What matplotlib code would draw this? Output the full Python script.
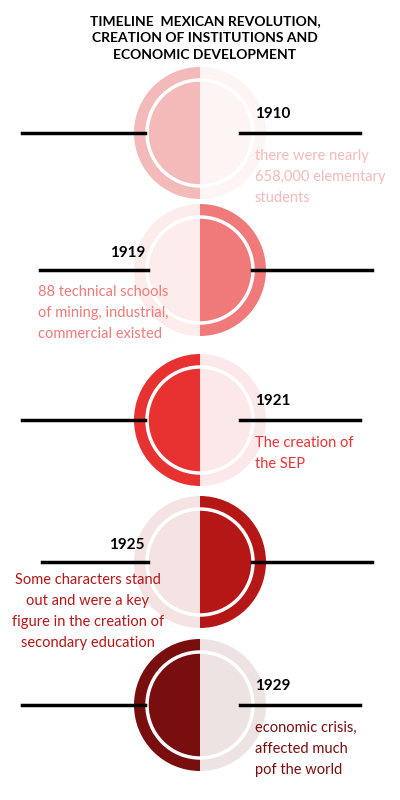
import matplotlib
matplotlib.use('Agg')
from matplotlib import pyplot as plt
from matplotlib.patches import Wedge, Circle

plt.rcParams['font.family'] = ['Lato', 'DejaVu Sans']

years = ['1910', '1919', '1921', '1925', '1929']
texts = ['there were nearly\n658,000 elementary\nstudents',
         '88 technical schools\nof mining, industrial,\ncommercial existed',
         'The creation of\nthe SEP',
         'Some characters stand\nout and were a key\nfigure in the creation of\nsecondary education',
         'economic crisis,\naffected much\npof the world']
dark_colors = ['#f4b9b9', '#f07a7a', '#e83232', '#b51616', '#780e0e']
light_colors = ['#fdf4f4', '#fcecec', '#fce8e8', '#f5e3e3', '#ede3e3']
dark_side = ['left', 'right', 'left', 'right', 'left']
text_colors = ['#f4b9b9', '#f07a7a', '#e83232', '#b51616', '#780e0e']
centers_y = [133, 270, 420, 562, 705]

fig = plt.figure(figsize=(4, 8), dpi=100)
ax = fig.add_axes([0, 0, 1, 1])
ax.set_xlim(0, 400)
ax.set_ylim(800, 0)
ax.axis('off')

ax.text(205, 38, 'TIMELINE  MEXICAN REVOLUTION,\nCREATION OF INSTITUTIONS AND\nECONOMIC DEVELOPMENT',
        ha='center', va='center', fontsize=10, fontweight='bold', linespacing=1.5)

cx, R, r = 200, 66, 53
fs = 10.5
for i in range(5):
    cy = centers_y[i]
    if dark_side[i] == 'left':
        left_c, right_c = dark_colors[i], light_colors[i]
    else:
        left_c, right_c = light_colors[i], dark_colors[i]
    ax.add_patch(Wedge((cx, cy), R, 90, 270, color=left_c, lw=0))
    ax.add_patch(Wedge((cx, cy), R, -90, 90, color=right_c, lw=0))
    ax.add_patch(Circle((cx, cy), r, fill=False, ec='white', lw=2.5))

    if dark_side[i] == 'left':
        ax.plot([22, 145], [cy, cy], color='black', lw=2.5)
        ax.plot([240, 360], [cy, cy], color='black', lw=2.5)
        ax.text(255, cy - 19, years[i], fontsize=11, fontweight='bold', va='center')
        ax.text(255, cy + 16, texts[i], fontsize=fs, color=text_colors[i],
                va='top', linespacing=1.65)
    else:
        ax.plot([40 if i == 1 else 42, 148], [cy, cy], color='black', lw=2.5)
        ax.plot([252, 372], [cy, cy], color='black', lw=2.5)
        ax.text(145, cy - 17, years[i], fontsize=11, fontweight='bold', va='center', ha='right')
        if i == 1:
            ax.text(38, cy + 15, texts[i], fontsize=fs, color=text_colors[i],
                    va='top', linespacing=1.65)
        else:
            ax.text(88, cy + 11, texts[i], fontsize=fs, color=text_colors[i],
                    va='top', ha='center', linespacing=1.65)

fig.savefig('out.png', dpi=100)
